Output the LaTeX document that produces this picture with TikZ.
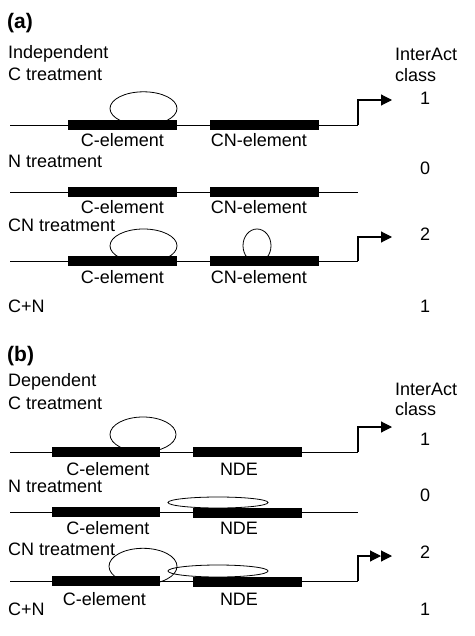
\documentclass[tikz,border=0pt]{standalone}
\usepackage{fontspec}
\setmainfont{Liberation Sans}
\usepackage{tikz}
\usetikzlibrary{arrows.meta}

\begin{document}
\begin{tikzpicture}[x=1pt, y=-1pt,
        every node/.style={inner sep=0pt, font=\fontsize{18}{21}\selectfont},
        txt/.style={anchor=base west},
        num/.style={anchor=base},
        lab/.style={anchor=base},
        dna/.style={line width=0.8pt},
        bind/.style={line width=0.8pt},
        elem/.style={fill=black, rectangle, minimum height=10pt},
        prom/.style={line width=1.1pt, -{Triangle[length=11pt,width=11pt]}},
        promtwo/.style={line width=1.1pt, -{Triangle[length=11pt,width=11pt] . Triangle[length=11pt,width=11pt]}}]
        \useasboundingbox (0,0) rectangle (474,636);

        % (a) independent
        \node[txt, font=\fontsize{21}{24}\bfseries] (pa) at (7,29) {(a)};
        \node[txt] (aind) at (8,59) {Independent};
        \node[txt] (act) at (8,80.5) {C treatment};
        \node[txt] (aia) at (395,60.5) {InterAct};
        \node[txt] (acl) at (395,82) {class};
        \node[num] (an1) at (425,105) {1};

        \coordinate (a1s) at (10,125);
        \coordinate (a1e) at (358,125);
        \coordinate (a1t) at (392,100);
        \draw[dna] (a1s) -- (a1e);
        \draw[bind] (143.5,108.5) ellipse (33.5 and 16.7);
        \node[elem, minimum width=109pt] (a1c) at (122.5,125) {};
        \node[elem, minimum width=109pt] (a1n) at (264.5,125) {};
        \draw[prom] (a1e) |- (a1t);
        \node[lab] (a1cl) at (122.5,146.5) {C-element};
        \node[lab] (a1nl) at (259,146.5) {CN-element};

        \node[txt] (ant) at (8,168) {N treatment};
        \node[num] (an0) at (425,175) {0};
        \coordinate (a2s) at (10,192);
        \coordinate (a2e) at (358,192);
        \draw[dna] (a2s) -- (a2e);
        \node[elem, minimum width=109pt] (a2c) at (122.5,192) {};
        \node[elem, minimum width=109pt] (a2n) at (264.5,192) {};
        \node[lab] (a2cl) at (122.5,213.3) {C-element};
        \node[lab] (a2nl) at (259,213.3) {CN-element};

        \node[txt] (acnt) at (8,231.7) {CN treatment};
        \node[num] (an2) at (425,240) {2};
        \coordinate (a3s) at (10,261);
        \coordinate (a3e) at (358,261);
        \coordinate (a3t) at (392,237);
        \draw[dna] (a3s) -- (a3e);
        \draw[bind] (143.5,245.8) ellipse (33.5 and 16.8);
        \draw[bind] (257,245.7) ellipse (14 and 16.7);
        \node[elem, minimum width=109pt] (a3c) at (122.5,261) {};
        \node[elem, minimum width=109pt] (a3n) at (264.5,261) {};
        \draw[prom] (a3e) |- (a3t);
        \node[lab] (a3cl) at (122.5,283.3) {C-element};
        \node[lab] (a3nl) at (259,283.3) {CN-element};

        \node[txt] (acpn) at (8,312.3) {C+N};
        \node[num] (an3) at (425,312.3) {1};

        % (b) dependent
        \node[txt, font=\fontsize{21}{24}\bfseries] (pb) at (7,361.7) {(b)};
        \node[txt] (bdep) at (8,386.7) {Dependent};
        \node[txt] (bct) at (8,409.3) {C treatment};
        \node[txt] (bia) at (395,395) {InterAct};
        \node[txt] (bcl) at (395,415.7) {class};
        \node[num] (bn1) at (425,445) {1};

        \coordinate (b1s) at (10,452);
        \coordinate (b1e) at (358,452);
        \coordinate (b1t) at (392,427);
        \draw[dna] (b1s) -- (b1e);
        \draw[bind] (143,434.5) ellipse (33 and 17.5);
        \node[elem, minimum width=108pt] (b1c) at (106,452) {};
        \node[elem, minimum width=109pt] (b1n) at (247.5,452) {};
        \draw[prom] (b1e) |- (b1t);
        \node[lab] (b1cl) at (108,475) {C-element};
        \node[lab] (b1nl) at (239,475) {NDE};

        \node[txt] (bnt) at (8,492.7) {N treatment};
        \node[num] (bn0) at (425,501.7) {0};
        \coordinate (b2s) at (10,512.5);
        \coordinate (b2e) at (358,512.5);
        \draw[dna] (b2s) -- (b2e);
        \draw[bind] (218,502.5) ellipse (50 and 5.5);
        \node[elem, minimum width=108pt] (b2c) at (106,512) {};
        \node[elem, minimum width=109pt] (b2n) at (247.5,513) {};
        \node[lab] (b2cl) at (108,534.3) {C-element};
        \node[lab] (b2nl) at (239,534.3) {NDE};

        \node[txt] (bcnt) at (8,555) {CN treatment};
        \node[num] (bn2) at (425,558.3) {2};
        \coordinate (b3s) at (10,581);
        \coordinate (b3e) at (358,581);
        \coordinate (b3t) at (392,556);
        \draw[dna] (b3s) -- (b3e);
        \draw[bind] (143,566.3) ellipse (34 and 18);
        \draw[bind] (218,571) ellipse (50 and 6);
        \node[elem, minimum width=108pt] (b3c) at (106,581) {};
        \node[elem, minimum width=109pt] (b3n) at (247.5,582) {};
        \draw[promtwo] (b3e) |- (b3t);
        \node[lab] (b3cl) at (104.5,605) {C-element};
        \node[lab] (b3nl) at (239,605) {NDE};

        \node[txt] (bcpn) at (8,615.7) {C+N};
        \node[num] (bn3) at (425,615.7) {1};
    \end{tikzpicture}
\end{document}
